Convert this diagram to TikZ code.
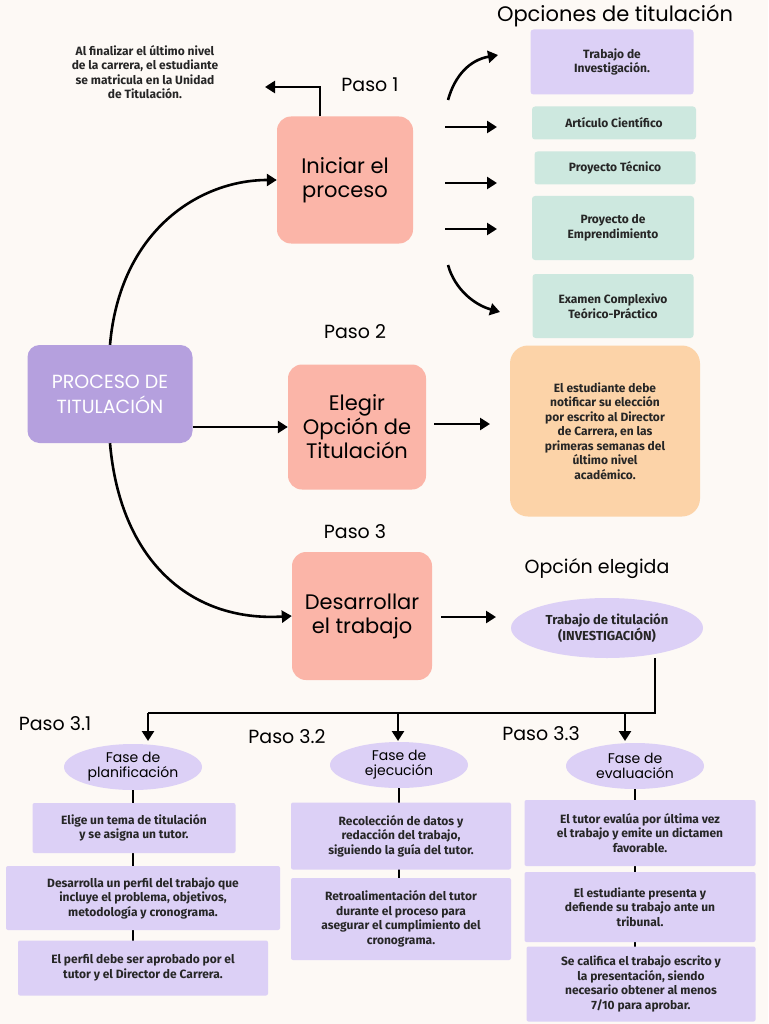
\documentclass[tikz,border=0pt]{standalone}
\usepackage{fontspec}
\setmainfont{Fira Sans}
\newfontfamily\hand{Poppins}
\usetikzlibrary{arrows.meta,shapes.geometric}
\definecolor{bg}{HTML}{FDF9F5}
\definecolor{pink}{HTML}{FBB5A8}
\definecolor{purp}{HTML}{B5A0DE}
\definecolor{lil}{HTML}{DCD0F6}
\definecolor{mint}{HTML}{CDE8DF}
\definecolor{orng}{HTML}{FCD3A8}
\begin{document}
\begin{tikzpicture}[x=1pt,y=-1pt,
 body/.style={font=\fontsize{12}{14.5}\selectfont\bfseries,align=center,text=black!85},
 box/.style={body,rounded corners=3pt,inner sep=1pt},
 stp/.style={rounded corners=14pt,fill=pink,font=\hand\fontsize{21}{24}\selectfont,align=center},
 lab/.style={font=\hand\fontsize{19}{21}\selectfont},
 arr/.style={-{Triangle[length=10pt,width=12pt]},line width=2.6pt},
 thin/.style={line width=1.4pt}]
\fill[bg] (0,0) rectangle (768,1024);
\node[lab,font=\hand\fontsize{21}{23}\selectfont] (t1) at (615,16) {Opciones de titulación};
\node[body] (intro) at (145,72) {Al finalizar el último nivel\\de la carrera, el estudiante\\se matricula en la Unidad\\de Titulación.};
\node[lab] (p1) at (370,85) {Paso 1};
\node[stp,minimum width=136pt,minimum height=127pt] (s1) at (345,180) {Iniciar el\\proceso};
\coordinate (c1) at (320,87);
\coordinate (c2) at (265,87);
\draw[arr] (s1.north -| c1) -- (c1) -- (c2);
% options
\node[box,fill=lil,minimum width=163pt,minimum height=65pt] (o1) at (612,62) {Trabajo de\\Investigación.};
\node[box,fill=mint,minimum width=164pt,minimum height=33pt] (o2) at (614,123) {Artículo Científico};
\node[box,fill=mint,minimum width=161pt,minimum height=33pt] (o3) at (615,168) {Proyecto Técnico};
\node[box,fill=mint,minimum width=162pt,minimum height=64pt] (o4) at (613,228) {Proyecto de\\Emprendimiento};
\node[box,fill=mint,minimum width=161pt,minimum height=64pt] (o5) at (613,306) {Examen Complexivo\\Teórico-Práctico};
\coordinate (a1) at (448,100); \coordinate (b1) at (498,55);
\coordinate (a2) at (445,127); \coordinate (b2) at (497,127);
\coordinate (a3) at (445,183); \coordinate (b3) at (497,183);
\coordinate (a4) at (445,229); \coordinate (b4) at (497,229);
\coordinate (a5) at (448,265); \coordinate (b5) at (500,312);
\draw[arr] (a1) .. controls (455,75) and (470,60) .. (b1);
\draw[arr] (a2) -- (b2);
\draw[arr] (a3) -- (b3);
\draw[arr] (a4) -- (b4);
\draw[arr] (a5) .. controls (455,290) and (475,305) .. (b5);
% main
\node[rounded corners=12pt,fill=purp,minimum width=165pt,minimum height=98pt,text=white,font=\hand\fontsize{19}{25}\selectfont,align=center] (m) at (110,394) {PROCESO DE\\TITULACIÓN};
\node[lab] (p2) at (355,332) {Paso 2};
\node[stp,minimum width=138pt,minimum height=125pt] (s2) at (357,427) {Elegir\\Opción de\\Titulación};
\node[box,fill=orng,rounded corners=18pt,minimum width=190pt,minimum height=171pt] (or) at (605,431) {El estudiante debe\\notificar su elección\\por escrito al Director\\de Carrera, en las\\primeras semanas del\\último nivel\\académico.};
\coordinate (q1) at (434,424);
\coordinate (q2) at (490,424);
\draw[arr] (m.north) .. controls (120,230) and (200,180) .. (s1.west);
\draw[arr] (m.east |- s2) -- (s2.west);
\draw[arr] (q1) -- (q2);
\node[lab] (p3) at (355,532) {Paso 3};
\node[stp,minimum width=140pt,minimum height=128pt] (s3) at (362,616) {Desarrollar\\el trabajo};
\draw[arr] (m.south) .. controls (120,560) and (190,622) .. (s3.west);
\node[lab] (oe) at (597,569) {Opción elegida};
\node[ellipse,fill=lil,minimum width=192pt,minimum height=60pt,inner sep=0pt,body,font=\fontsize{13}{15.5}\selectfont\bfseries] (e0) at (607,628) {Trabajo de titulación\\(INVESTIGACIÓN)};
\coordinate (q3) at (441,617);
\coordinate (q4) at (496,617);
\draw[arr] (q3) -- (q4);
% phases
\node[lab] (p31) at (55,724) {Paso 3.1};
\node[lab] (p32) at (287,737) {Paso 3.2};
\node[lab] (p33) at (541,734) {Paso 3.3};
\tikzset{ph/.style={ellipse,fill=lil,minimum width=138pt,minimum height=46pt,inner sep=0pt,align=center,font=\hand\fontsize{14}{15}\selectfont}}
\node[ph] (f1) at (133,767) {Fase de\\planificación};
\node[ph] (f2) at (399,765) {Fase de\\ejecución};
\node[ph] (f3) at (635,766) {Fase de\\evaluación};
\coordinate (j0) at (655,713);
\coordinate (j1) at (148,713);
\coordinate (j2) at (398,713);
\coordinate (j3) at (625,713);
\draw[line width=2.6pt] (e0.south -| j0) -- (j0) -- (j1);
\draw[arr] (j1) -- (148,741);
\draw[arr] (j2) -- (398,741);
\draw[arr] (j3) -- (625,741);
\tikzset{pb/.style={box,fill=lil,rounded corners=2pt}}
\draw[thin] (f1.south) -- (133,945);
\draw[thin] (f2.south) -- (399,880);
\draw[thin] (f3.south) -- (635,950);
\node[pb,minimum width=203pt,minimum height=50pt] (b11) at (134,828) {Elige un tema de titulación\\y se asigna un tutor.};
\node[pb,minimum width=274pt,minimum height=64pt] (b12) at (143,898) {Desarrolla un perfil del trabajo que\\incluye el problema, objetivos,\\metodología y cronograma.};
\node[pb,minimum width=250pt,minimum height=55pt] (b13) at (143,968) {El perfil debe ser aprobado por el\\tutor y el Director de Carrera.};
\node[pb,minimum width=220pt,minimum height=67pt] (b21) at (401,836) {Recolección de datos y\\redacción del trabajo,\\siguiendo la guía del tutor.};
\node[pb,minimum width=220pt,minimum height=82pt] (b22) at (401,919) {Retroalimentación del tutor\\durante el proceso para\\asegurar el cumplimiento del\\cronograma.};
\node[pb,minimum width=231pt,minimum height=66pt] (b31) at (640,833) {El tutor evalúa por última vez\\el trabajo y emite un dictamen\\favorable.};
\node[pb,minimum width=231pt,minimum height=70pt] (b32) at (640,907) {El estudiante presenta y\\defiende su trabajo ante un\\tribunal.};
\node[pb,minimum width=229pt,minimum height=75pt] (b33) at (641,984) {Se califica el trabajo escrito y\\la presentación, siendo\\necesario obtener al menos\\7/10 para aprobar.};
\end{tikzpicture}
\end{document}
